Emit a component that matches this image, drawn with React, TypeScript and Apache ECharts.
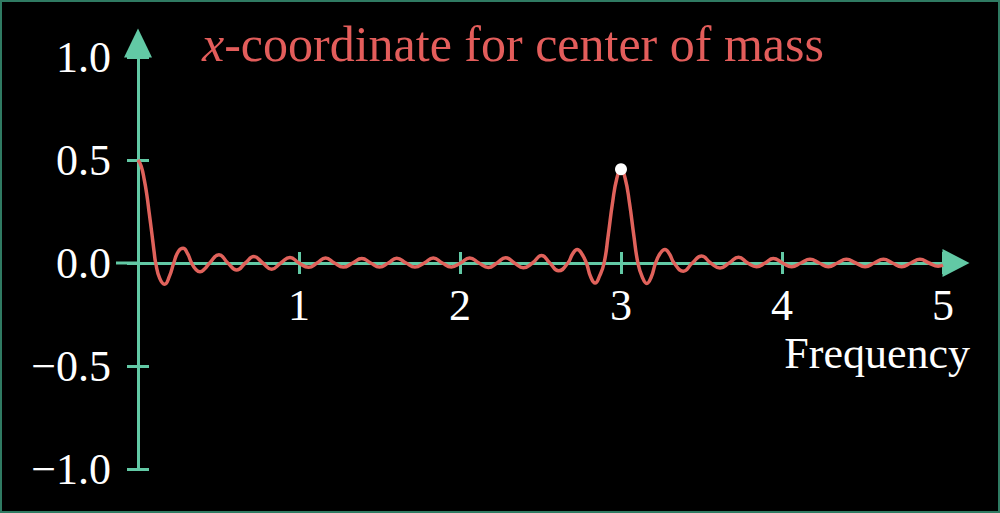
import React, { useEffect, useRef } from "react";
import * as echarts from "echarts";

// Frequency axis
const xTickValues = [0, 1, 2, 3, 4, 5];
const yTickValues = [-1, -0.5, 0, 0.5, 1];

// Curve: frequency -> x-coordinate for center of mass
const frequency = [
  0.0, 0.02, 0.04, 0.055, 0.07, 0.085, 0.1, 0.11, 0.135, 0.165, 0.195, 0.222,
  0.25, 0.28, 0.308, 0.333, 0.36, 0.385, 0.415, 0.445, 0.503, 0.558, 0.613, 0.667,
  0.72, 0.775, 0.83, 0.887, 0.944, 1.0, 1.06, 1.112, 1.165, 1.22, 1.275, 1.333,
  1.39, 1.445, 1.5, 1.555, 1.607, 1.665, 1.72, 1.778, 1.834, 1.89, 1.946, 2.003,
  2.06, 2.118, 2.176, 2.23, 2.283, 2.338, 2.393, 2.45, 2.507, 2.558, 2.612, 2.67,
  2.7, 2.728, 2.756, 2.785, 2.812, 2.839, 2.866, 2.895, 2.921, 2.947, 2.974, 3.0,
  3.026, 3.053, 3.079, 3.105, 3.132, 3.16, 3.188, 3.215, 3.244, 3.273, 3.3, 3.33,
  3.387, 3.443, 3.5, 3.557, 3.615, 3.672, 3.73, 3.787, 3.842, 3.895, 3.946, 4.003,
  4.06, 4.117, 4.174, 4.231, 4.288, 4.344, 4.4, 4.458, 4.516, 4.573, 4.63, 4.686,
  4.743, 4.8, 4.857, 4.913, 4.97, 5.0,
];
const centerOfMassX = [
  0.5, 0.47, 0.4, 0.33, 0.24, 0.15, 0.055, 0.0, -0.075, -0.103, -0.065, 0.0,
  0.055, 0.071, 0.045, 0.0, -0.032, -0.043, -0.028, 0.0, 0.04, 0.0, -0.034, 0.0,
  0.031, 0.0, -0.03, 0.0, 0.027, 0.0, -0.021, 0.0, 0.024, 0.0, -0.02, 0.0,
  0.022, 0.0, -0.02, 0.0, 0.023, 0.0, -0.02, 0.0, 0.024, 0.0, -0.019, 0.0,
  0.024, 0.0, -0.022, 0.0, 0.026, 0.0, -0.023, 0.0, 0.036, 0.0, -0.038, 0.0,
  0.045, 0.066, 0.045, 0.0, -0.068, -0.097, -0.065, 0.0, 0.137, 0.29, 0.41, 0.455,
  0.41, 0.29, 0.137, 0.0, -0.068, -0.099, -0.068, 0.0, 0.047, 0.066, 0.045, 0.0,
  -0.04, 0.0, 0.034, 0.0, -0.024, 0.0, 0.028, 0.0, -0.018, 0.0, 0.022, 0.0,
  -0.018, 0.0, 0.018, 0.0, -0.018, 0.0, 0.018, 0.0, -0.018, 0.0, 0.018, 0.0,
  -0.018, 0.0, 0.018, 0.0, -0.016, -0.01,
];
const markerPoint = [3.0, 0.455];
const titleVariable = "x";
const titleRest = "-coordinate for center of mass";
const xAxisName = "Frequency";

const AXIS = "#62c9a5";
const CURVE = "#e0625b";
const TITLE = "#e35d5b";
const FONT = "'Liberation Serif', 'Times New Roman', serif";

export default function App() {
  const ref = useRef<HTMLDivElement>(null);

  useEffect(() => {
    document.body.style.margin = "0";
    document.body.style.background = "#000";
    if (!ref.current) return;
    const chart = echarts.init(ref.current, undefined, { renderer: "svg" });

    const tickStyle = { color: AXIS, width: 3 };
    const fmtY = (v: number) => (v < 0 ? "\u2212" + Math.abs(v).toFixed(1) : v.toFixed(1));

    const option: any = {
      animation: false,
      backgroundColor: "#000",
      grid: {
        left: 138,
        right: 57,
        top: 57,
        bottom: 44,
        containLabel: false,
        outerBoundsMode: "none",
      },
      xAxis: [
        {
          type: "value",
          position: "bottom",
          min: xTickValues[0],
          max: xTickValues[xTickValues.length - 1],
          interval: 1,
          axisLine: {
            show: true,
            onZero: true,
            onZeroAxisIndex: 0,
            symbol: ["none", "triangle"],
            symbolSize: [28, 27],
            symbolOffset: [0, 13],
            lineStyle: { color: AXIS, width: 3 },
          },
          axisTick: { show: true, inside: false, length: 11, lineStyle: tickStyle },
          axisLabel: { show: false },
          splitLine: { show: false },
        },
        {
          type: "value",
          position: "bottom",
          min: xTickValues[0],
          max: xTickValues[xTickValues.length - 1],
          interval: 1,
          axisLine: { show: false, onZero: true, onZeroAxisIndex: 1 },
          axisTick: { show: true, inside: true, length: 11, lineStyle: tickStyle },
          axisLabel: { show: false },
          splitLine: { show: false },
        },
      ],
      yAxis: [
        {
          type: "value",
          position: "left",
          min: yTickValues[0],
          max: yTickValues[yTickValues.length - 1],
          interval: 0.5,
          axisLine: {
            show: true,
            onZero: false,
            symbol: ["none", "triangle"],
            symbolSize: [28, 29],
            symbolOffset: [0, 14],
            lineStyle: { color: AXIS, width: 3 },
          },
          axisTick: { show: true, inside: false, length: 11, lineStyle: tickStyle },
          axisLabel: { color: "#fff", fontFamily: FONT, fontSize: 44, margin: 27, formatter: fmtY },
          splitLine: { show: false },
        },
        {
          type: "value",
          position: "left",
          min: yTickValues[0],
          max: yTickValues[yTickValues.length - 1],
          interval: 0.5,
          axisLine: { show: false, onZero: false },
          axisTick: { show: true, inside: true, length: 11, lineStyle: tickStyle },
          axisLabel: { show: false },
          splitLine: { show: false },
        },
      ],
      series: [
        {
          type: "line",
          xAxisIndex: 0,
          yAxisIndex: 0,
          data: frequency.map((f, i) => [f, centerOfMassX[i]]),
          smooth: 0.5,
          showSymbol: false,
          lineStyle: { color: CURVE, width: 3.5 },
          z: 5,
        },
        {
          type: "scatter",
          xAxisIndex: 0,
          yAxisIndex: 0,
          data: [markerPoint],
          symbolSize: 12,
          itemStyle: { color: "#ffffff", opacity: 1 },
          z: 6,
        },
        {
          // x tick labels, placed on the zero line through the axis scale
          type: "scatter",
          xAxisIndex: 0,
          yAxisIndex: 0,
          data: xTickValues.filter((v) => v !== 0).map((v) => [v, 0]),
          symbolSize: 0,
          silent: true,
          itemStyle: { opacity: 1 },
          label: {
            show: true,
            position: "bottom",
            distance: 20,
            formatter: (p: any) => String(p.value[0]),
            color: "#ffffff",
            opacity: 1,
            fontFamily: FONT,
            fontSize: 44,
          },
          z: 2,
        },
      ],
      graphic: [
        {
          id: "frame",
          type: "rect",
          shape: { x: 1, y: 1, width: 998, height: 511 },
          style: { fill: "none", stroke: "#2f7a62", lineWidth: 2 },
          silent: true,
        },
        {
          id: "title",
          type: "text",
          x: 202,
          y: 44,
          style: {
            text: "{i|" + titleVariable + "}{r|" + titleRest + "}",
            verticalAlign: "middle",
            rich: {
              i: { fontFamily: FONT, fontStyle: "italic", fontSize: 50, fill: TITLE, color: TITLE },
              r: { fontFamily: FONT, fontSize: 50, fill: TITLE, color: TITLE },
            },
          },
        },
        {
          id: "axisName",
          type: "text",
          x: 970,
          y: 353,
          style: {
            text: xAxisName,
            align: "right",
            verticalAlign: "middle",
            font: "44px " + FONT,
            fill: "#fff",
          },
        },
      ],
    };
    chart.setOption(option);

    const origin = chart.convertToPixel({ gridIndex: 0 } as any, [0, 0]) as number[];
    chart.setOption({
      graphic: [
        {
          id: "xAxisExtension",
          type: "line",
          shape: { x1: origin[0] - 22, y1: origin[1], x2: origin[0], y2: origin[1] },
          style: { stroke: AXIS, lineWidth: 3 },
          z: 1,
        },
      ],
    });

    return () => chart.dispose();
  }, []);

  return <div ref={ref} style={{ width: 1000, height: 513 }} />;
}
